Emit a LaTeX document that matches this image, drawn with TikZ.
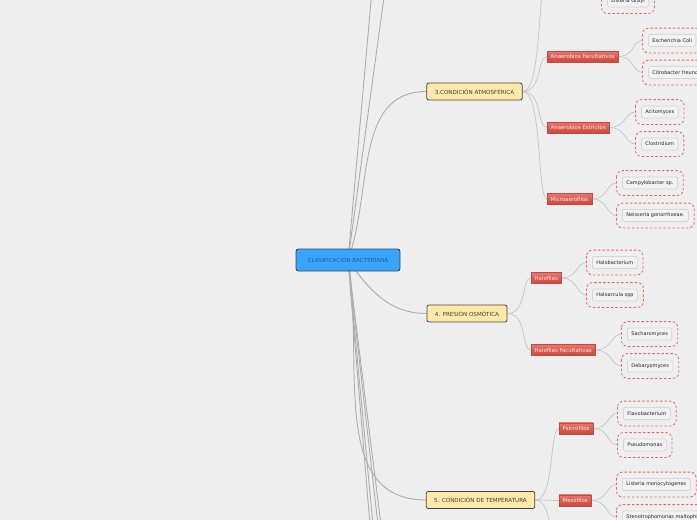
\documentclass[tikz,border=0pt]{standalone}
\usepackage{fontspec}
\setmainfont{DejaVu Sans}
\usetikzlibrary{backgrounds}
\definecolor{bgcol}{HTML}{EEEEEE}
\definecolor{rootfill}{HTML}{37A5FF}
\definecolor{roottext}{HTML}{2A5A88}
\definecolor{mainfill}{HTML}{FFE9A8}
\definecolor{mainline}{HTML}{444444}
\definecolor{redtop}{HTML}{E8756A}
\definecolor{redbot}{HTML}{C9473D}
\definecolor{redline}{HTML}{C24A40}
\definecolor{redtext}{HTML}{FFE6E2}
\definecolor{leaffill}{HTML}{F2F2F2}
\definecolor{leafline}{HTML}{D6D6D6}
\definecolor{zonecol}{HTML}{EE6A62}
\definecolor{linkcol}{HTML}{ADADAD}
\definecolor{sublinkcol}{HTML}{C6C6C6}
\tikzset{
  basic/.style   = {rectangle, align=center, font=\fontsize{5}{6}\selectfont},
  root/.style    = {basic, font=\fontsize{5.6}{6.5}\selectfont, draw=mainline, fill=rootfill, text=roottext,
                    line width=0.9pt, rounded corners=2.5pt, minimum width=104pt, minimum height=22pt},
  level 1/.style = {basic, font=\fontsize{5.6}{6.5}\selectfont, draw=mainline, fill=mainfill, text=black!75,
                    line width=0.8pt, rounded corners=2pt, inner xsep=8pt, minimum height=17pt},
  level 2/.style = {basic, font=\fontsize{5.4}{6.5}\selectfont, anchor=west, draw=redline, line width=0.3pt,
                    top color=redtop, bottom color=redbot, text=redtext, inner xsep=3.5pt, minimum height=11pt},
  level 3/.style = {basic, anchor=west, draw=leafline, fill=leaffill, text=black!85, line width=0.8pt,
                    rounded corners=1.5pt, inner xsep=4pt, minimum height=12pt},
  zone/.style    = {draw=zonecol, dash pattern=on 2.5pt off 2pt, line width=0.8pt, rounded corners=6pt},
  link/.style    = {draw=linkcol, line width=0.9pt},
  sublink/.style = {draw=sublinkcol, line width=0.7pt}
}
\begin{document}
\begin{tikzpicture}[x=1pt,y=1pt]
\useasboundingbox (0,0) rectangle (697,-520);
% main branches
\node[root] (clas) at (348,-260) {CLASIFICACIÓN BACTERIANA};
\node[level 1] (atm) at (474.5,-91.5) {3.CONDICIÓN ATMOSFÉRICA};
\node[level 1] (osm) at (467,-313.5) {4. PRESIÓN OSMÓTICA};
\node[level 1] (temp) at (480.5,-500) {5. CONDICIÓN DE TEMPERATURA};
% groups
\node[level 2] (anfac) at (547,-56.5) {Anaerobios Facultativos};
\node[level 2] (anest) at (547,-127.5) {Anaerobios Estrictos};
\node[level 2] (micro) at (547,-199) {Microaerofilos};
\node[level 2] (halo) at (531,-278) {Halofilas};
\node[level 2] (halofac) at (531,-350) {Halofilas Facultativas};
\node[level 2] (psic) at (559,-428.5) {Psicrófilos};
\node[level 2] (meso) at (559,-500.5) {Mesófilos};
% species
\node[level 3] (lgra) at (607,-1) {Listeria Grayi};
\node[level 3] (ecoli) at (648,-40.5) {Escherichia Coli};
\node[level 3] (citro) at (648,-72.5) {Citrobacter freundii};
\node[level 3] (acito) at (641,-112) {Acitomyces};
\node[level 3] (clost) at (641,-144) {Clostridium};
\node[level 3] (campy) at (622,-183) {Campylobacter sp.};
\node[level 3] (neiss) at (622,-215.5) {Neisseria gonorrhoeae.};
\node[level 3] (halob) at (592,-262.5) {Halobacterium};
\node[level 3] (haloa) at (592,-295) {Haloarcula spp};
\node[level 3] (sacha) at (627,-334) {Sacharomyces};
\node[level 3] (debar) at (627,-366) {Debaryomyces};
\node[level 3] (flavo) at (623,-413.5) {Flavobacterium};
\node[level 3] (pseudo) at (623,-445) {Pseudomonas};
\node[level 3] (liste) at (622,-484.5) {Listeria monocytogenes};
\node[level 3] (steno) at (622,-517) {Stenotrophomonas maltophilia};
\foreach \n in {lgra,ecoli,citro,acito,clost,campy,neiss,halob,haloa,sacha,debar,flavo,pseudo,liste,steno}
  \draw[zone] ([shift={(-5.5pt,6pt)}]\n.north west) rectangle ([shift={(5.5pt,-6pt)}]\n.south east);
% branches leaving the page
\coordinate (br1) at (372,10);
\coordinate (br2) at (385,10);
\coordinate (br6) at (370,-525);
\coordinate (br7) at (373,-525);
\coordinate (br8) at (378,-525);
\coordinate (br9) at (381,-525);
\coordinate (aer) at (547,20);
\coordinate (term) at (559,-560);
\begin{scope}[on background layer]
\fill[bgcol] (0,0) rectangle (697,-520);
\foreach \b in {br1,br2,br6,br7,br8,br9}
  \draw[link] (clas.center) -- (\b);
\draw[link] (clas.center) to[out=70,in=180] (atm.west);
\draw[link] (clas.center) to[out=-55,in=180] (osm.west);
\draw[link] (clas.center) to[out=-80,in=180] (temp.west);
\draw[sublink] (atm.east) .. controls +(20,0) and +(-10,0) .. (aer);
\draw[sublink] (temp.east) .. controls +(20,0) and +(-10,0) .. (term);
\foreach \a/\b in {atm/anfac,atm/anest,atm/micro,osm/halo,osm/halofac,temp/psic,temp/meso}
  \draw[sublink] (\a.east) .. controls +(20,0) and +(-10,0) .. (\b.west);
\foreach \a/\b in {anfac/ecoli,anfac/citro,anest/acito,anest/clost,micro/campy,micro/neiss,halo/halob,halo/haloa,
                   halofac/sacha,halofac/debar,psic/flavo,psic/pseudo,meso/liste,meso/steno}
  \draw[sublink] (\a.east) .. controls +(16,0) and +(-10,0) .. ([xshift=-5.5pt]\b.west);
\end{scope}
\end{tikzpicture}
\end{document}
